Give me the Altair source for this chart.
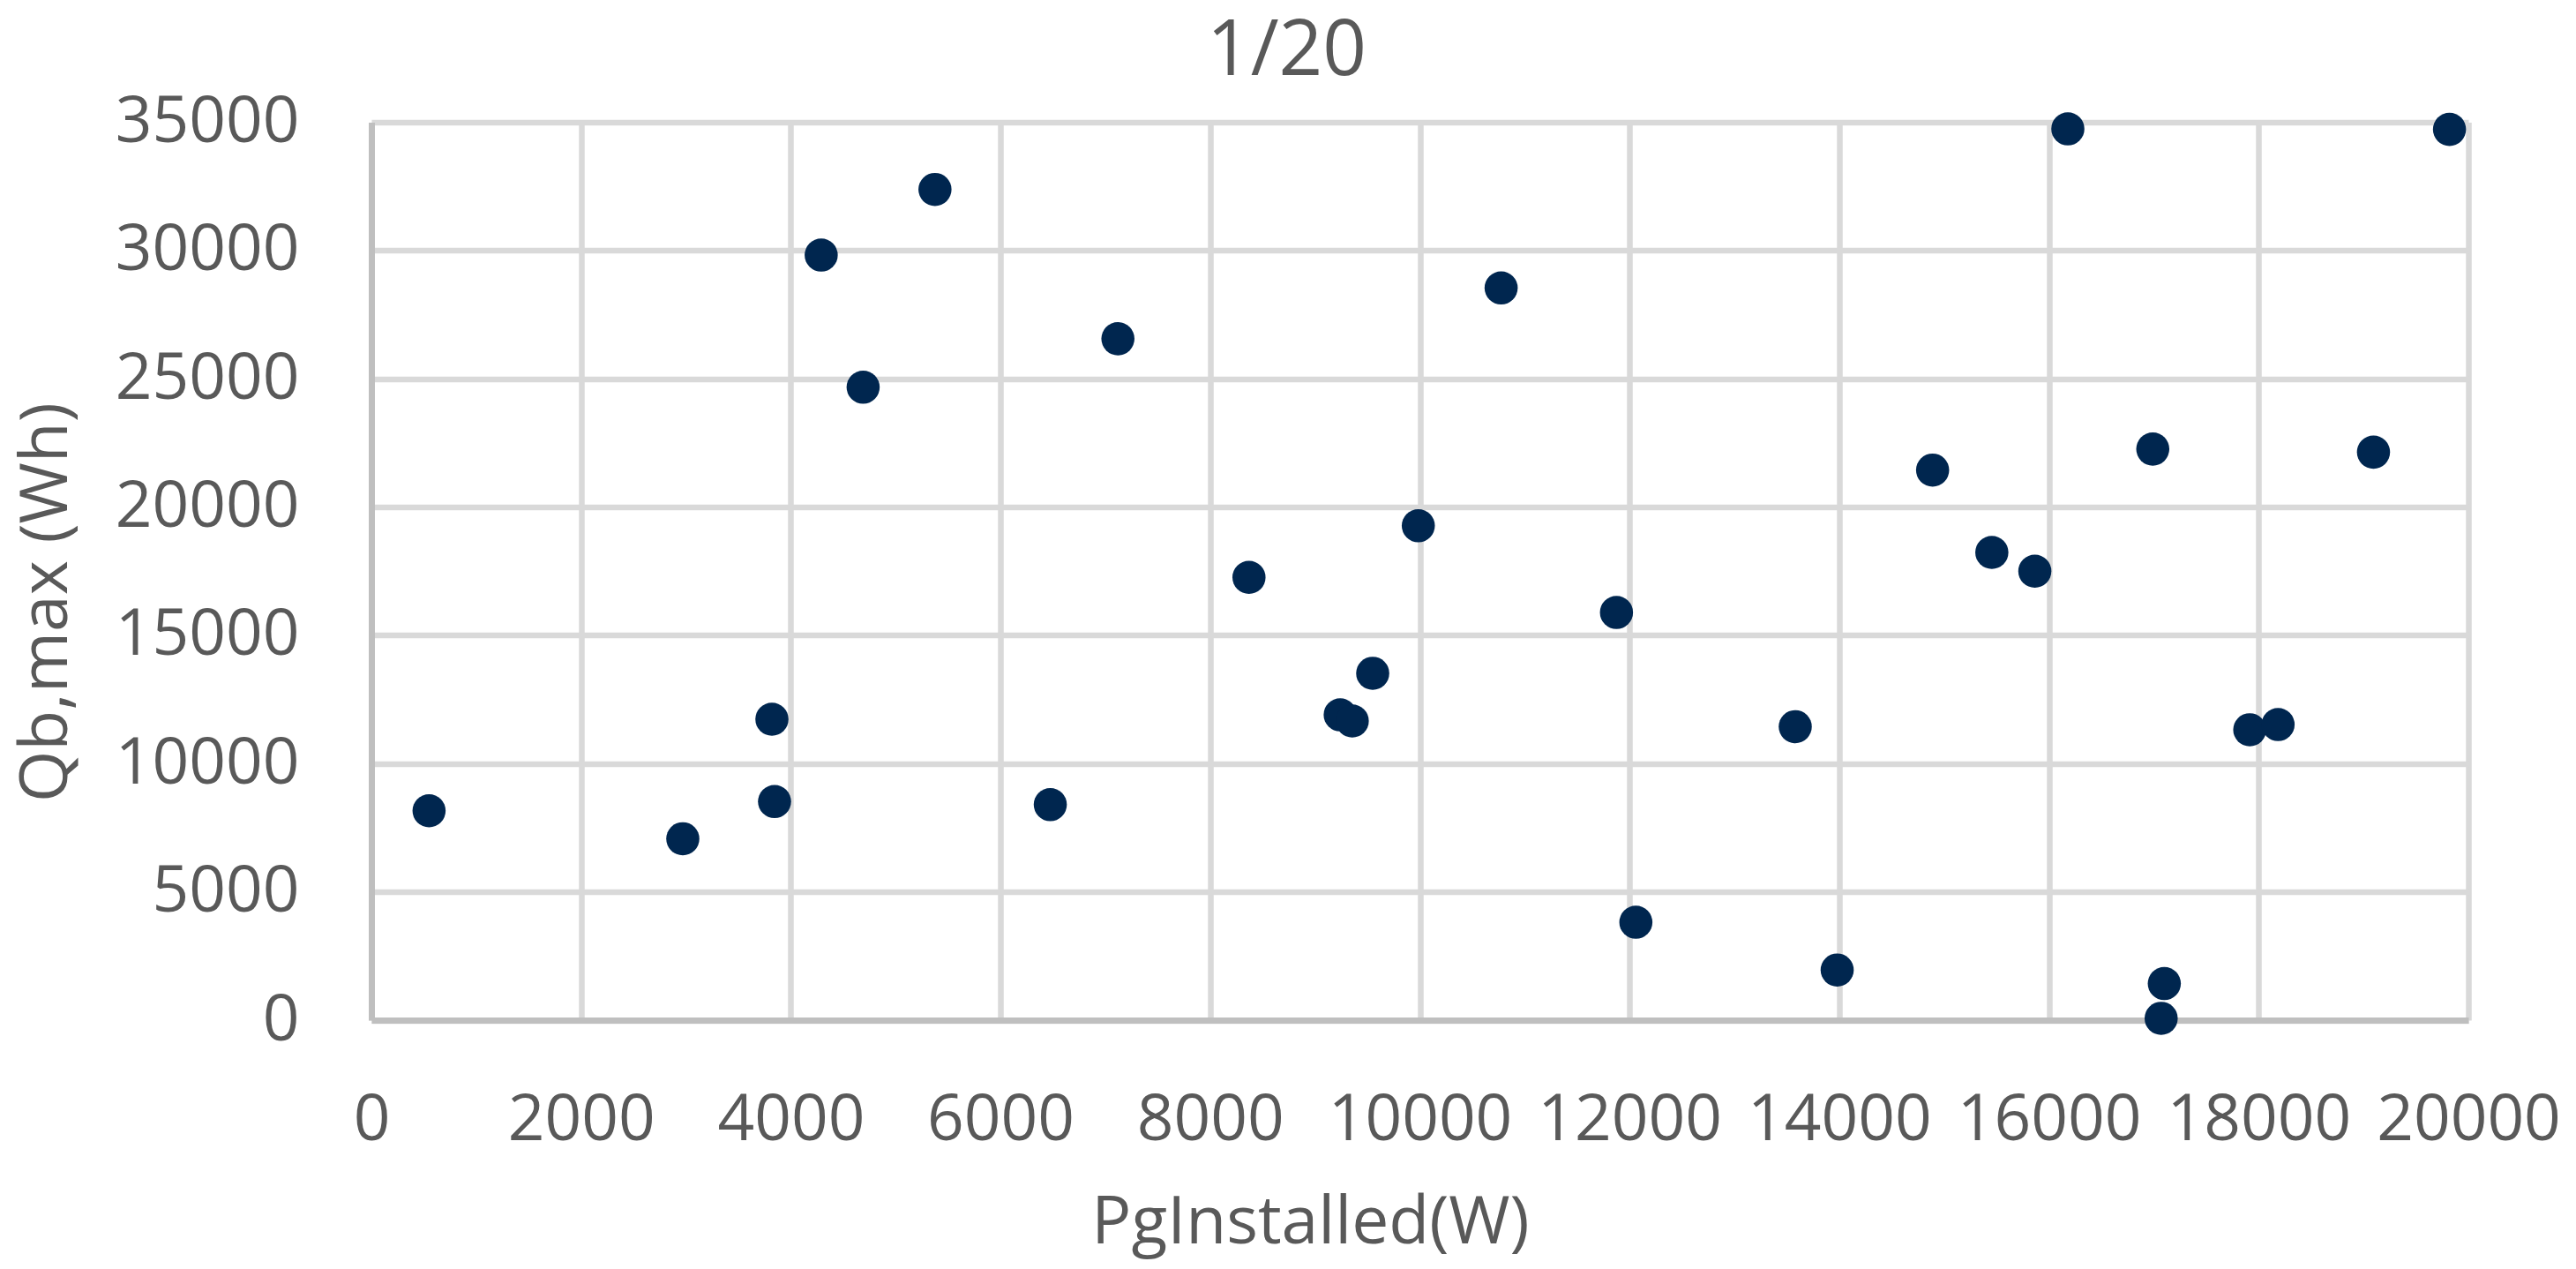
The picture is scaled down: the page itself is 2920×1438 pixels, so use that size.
import altair as alt
import pandas as pd

# Data
pg_installed = [550, 2970, 3820, 3845, 4290, 4690, 5375, 6475, 7120, 8370,
                9240, 9355, 9550, 9985, 10775, 11875, 12060, 13580, 13980, 14890,
                15455, 15865, 16180, 16990, 17070, 17100, 17915, 18185, 19095, 19820]
qb_max = [8160, 7070, 11730, 8520, 29820, 24670, 32380, 8400, 26560, 17260,
          11900, 11660, 13520, 19270, 28540, 15890, 3815, 11440, 1955, 21440,
          18230, 17500, 34740, 22260, 70, 1425, 11320, 11520, 22140, 34720]

x_ticks = list(range(0, 20001, 2000))
y_ticks = list(range(0, 35001, 5000))

df = pd.DataFrame({"PgInstalled": pg_installed, "Qb": qb_max})

FONT = "Open Sans"
TXT = "#595959"

W = 2377
H = 1017.5

chart = (
    alt.Chart(df)
    .mark_circle(size=1410, opacity=1, color="#00264F")
    .encode(
        x=alt.X(
            "PgInstalled:Q",
            scale=alt.Scale(domain=[0, 20000], nice=False, zero=True),
            axis=alt.Axis(
                title="PgInstalled(W)",
                values=x_ticks,
                format="d",
                grid=True,
                gridColor="#D9D9D9",
                gridWidth=6.5,
                domain=True,
                domainColor="#BFBFBF",
                domainWidth=7,
                ticks=False,
                tickSize=0,
                labelFont=FONT,
                labelFontSize=73,
                labelColor=TXT,
                labelBaseline="alphabetic",
                labelPadding=135,
                labelFlush=False,
                labelOverlap=False,
                labelLimit=0,
                titleFont=FONT,
                titleFontSize=75,
                titleFontWeight="normal",
                titleColor=TXT,
                titleBaseline="alphabetic",
                titleAnchor="start",
                titleAlign="center",
                titleX=1064,
                titleY=252,
            ),
        ),
        y=alt.Y(
            "Qb:Q",
            scale=alt.Scale(domain=[0, 35000], nice=False, zero=True),
            axis=alt.Axis(
                title="Qb,max (Wh)",
                values=y_ticks,
                format="d",
                grid=True,
                gridColor="#D9D9D9",
                gridWidth=6.5,
                domain=True,
                domainColor="#BFBFBF",
                domainWidth=7,
                ticks=False,
                tickSize=0,
                labelFont=FONT,
                labelFontSize=73,
                labelColor=TXT,
                labelAlign="right",
                labelBaseline="middle",
                labelPadding=82,
                labelFlush=False,
                labelOverlap=False,
                labelLimit=0,
                titleFont=FONT,
                titleFontSize=75,
                titleFontWeight="normal",
                titleColor=TXT,
                titleAngle=270,
                titleBaseline="alphabetic",
                titleAlign="center",
                titleX=-346,
                titleY=543.5,
            ),
        ),
    )
    .properties(
        width=W,
        height=H,
        title=alt.TitleParams(
            text="1/20",
            font=FONT,
            fontSize=87,
            fontWeight="normal",
            color=TXT,
            anchor="middle",
            frame="group",
            baseline="alphabetic",
            offset=15,
            dx=-151,
            dy=84,
        ),
        autosize=alt.AutoSizeParams(type="none"),
        padding={"left": 413, "top": 130.5, "right": 112, "bottom": 274},
        background="white",
    )
    .configure_view(stroke=None)
)

chart.save("out.html", embed_options={"renderer": "svg", "actions": False})
